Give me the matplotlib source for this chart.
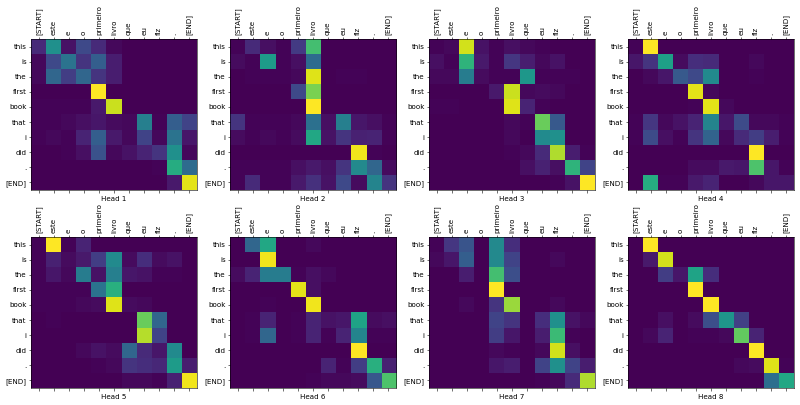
import numpy as np
import matplotlib
matplotlib.use("Agg")
import matplotlib.pyplot as plt

in_tokens = ['[START]', 'este', 'e', 'o', 'primeiro', 'livro', 'que', 'eu', 'fiz', '.', '[END]']
out_tokens = ['this', 'is', 'the', 'first', 'book', 'that', 'i', 'did', '.', '[END]']

head1 = [
 [.12,.50,.05,.22,.12,.02,0,0,0,0,0],
 [.02,.22,.38,.15,.30,.08,0,0,0,0,0],
 [.02,.33,.18,.33,.15,.08,0,0,0,0,0],
 [0,0,0,0,1,0,0,0,0,0,0],
 [.01,.01,.01,.01,.07,.92,0,0,0,0,0],
 [.01,.01,.02,.04,.06,.03,.02,.43,.01,.30,.20],
 [.01,.02,.01,.10,.30,.07,.02,.20,.02,.38,.06],
 [0,0,.01,.04,.25,.02,.05,.10,.15,.50,.02],
 [0,0,0,0,0,0,0,0,.01,.62,.35],
 [0,0,0,0,0,0,0,0,0,.07,.96],
]
head2 = [
 [.01,.12,.04,.01,.17,.70,0,0,0,0,0],
 [.03,.01,.55,.01,.04,.35,0,0,0,0,0],
 [0,.01,.01,.01,.02,.95,0,.01,.01,0,0],
 [0,0,0,0,.22,.80,0,0,0,0,0],
 [0,0,0,0,0,1,0,0,0,0,0],
 [.15,.01,.01,.01,.02,.37,.04,.43,.06,.04,.01],
 [.03,.01,.02,.01,.03,.60,.05,.15,.09,.10,.01],
 [0,0,0,0,0,0,0,0,.98,.01,0],
 [.01,.01,.01,.01,.04,.07,.04,.15,.47,.33,.03],
 [.01,.12,.01,.01,.07,.14,.05,.22,.03,.45,.15],
]
head3 = [
 [.01,.02,.93,.05,.01,.04,.02,.01,0,0,0],
 [.04,.01,.65,.07,.01,.16,.08,.02,.05,0,0],
 [.02,.02,.42,.03,.01,.01,.53,.01,.01,.01,0],
 [0,0,0,0,.07,.92,.02,.03,.02,0,0],
 [.01,.01,0,0,0,.95,.10,.01,0,0,0],
 [0,0,0,0,0,.02,.01,.77,.28,0,0],
 [0,0,0,0,0,.02,0,.48,.50,0,0],
 [0,0,0,0,0,.01,.02,.12,.88,.08,.01],
 [0,0,0,0,0,0,.04,.09,.04,.65,.20],
 [0,0,0,0,0,0,0,0,.01,.05,1],
]
head4 = [
 [.01,1,0,0,0,0,0,0,0,0,0],
 [.06,.15,.57,.03,.13,.12,0,0,.02,0,0],
 [0,.02,.06,.28,.22,.48,0,0,.01,0,0],
 [0,0,0,0,.96,.02,0,0,0,0,0],
 [0,0,0,0,.01,.96,.02,0,0,0,0],
 [.01,.16,.02,.05,.10,.45,.06,.23,.02,.02,.01],
 [.01,.23,.04,.01,.15,.32,.02,.12,.18,.08,.01],
 [0,0,0,0,0,0,0,0,1,0,0],
 [0,0,0,0,.03,.03,.07,.06,.72,.06,.01],
 [0,.62,.01,.01,.07,.10,0,0,.02,.06,.06],
]
head5 = [
 [.01,1,.01,.10,0,0,0,0,0,0,0],
 [.01,.09,.03,.07,.18,.48,.03,.13,.03,.05,0],
 [.01,.06,.02,.42,.05,.43,.06,.05,.01,.01,0],
 [.01,.01,.01,.01,.38,.63,0,0,0,0,0],
 [.01,.01,.01,.02,.03,.95,.03,.02,0,0,0],
 [0,.01,0,0,0,0,0,.77,.33,0,0],
 [0,0,0,0,0,0,0,.89,.20,0,0],
 [0,0,0,.02,.05,.03,.33,.12,.06,.48,0],
 [0,0,0,0,.01,.02,.15,.13,.11,.55,.08],
 [0,0,0,0,0,0,.02,.02,.01,.09,.98],
]
head6 = [
 [0,.33,.60,0,0,.02,0,0,0,0,0],
 [0,0,.98,0,0,0,0,0,0,0,0],
 [.03,.10,.42,.42,.01,.04,.02,0,0,0,0],
 [0,0,0,0,.96,.04,0,0,0,0,0],
 [0,0,.01,0,0,.98,0,0,0,0,0],
 [0,.01,.10,0,.01,.10,.05,.06,.58,.03,.04],
 [0,.01,.33,0,.01,.10,.01,.10,.45,.01,.01],
 [0,0,0,0,0,0,0,0,1,0,0],
 [0,0,0,0,0,0,.10,.01,.18,.63,.09],
 [0,0,0,0,0,.01,.02,.02,.03,.27,.72],
]
head7 = [
 [.01,.16,.26,0,.47,.13,0,0,0,0,0],
 [.02,.06,.30,0,.47,.20,0,0,.02,0,0],
 [0,0,.08,0,.70,.24,0,0,0,0,0],
 [0,0,0,0,1,0,0,0,0,0,0],
 [0,0,.02,0,.15,.85,0,0,.02,0,0],
 [0,0,0,0,.20,.15,0,.13,.50,.05,.02],
 [0,0,0,0,.18,.06,0,.08,.68,.01,0],
 [0,0,0,0,.02,.01,0,.02,.93,.04,0],
 [0,0,0,0,.06,.08,0,.20,.50,.20,.08],
 [0,0,0,0,0,0,0,.01,.02,.12,.88],
]
head8 = [
 [0,1,0,0,0,0,0,0,0,0,0],
 [0,.07,.93,0,0,0,0,0,0,0,0],
 [0,0,.18,.06,.58,.13,0,0,0,0,0],
 [0,0,0,0,1,0,0,0,0,0,0],
 [0,0,0,0,0,1,0,0,0,0,0],
 [0,0,.04,0,.03,.24,.52,.19,0,0,0],
 [0,.02,.10,0,.01,.01,.02,.76,.10,0,0],
 [0,0,0,0,0,0,0,0,1,0,0],
 [0,0,0,0,0,0,0,.02,.03,.95,.01],
 [0,0,0,0,0,0,0,0,0,.36,.60],
]
heads = [head1, head2, head3, head4, head5, head6, head7, head8]

left_px = [31, 230, 429, 628]
top_px = [39, 237]
w_px, h_px = 166, 151
W, H = 800, 405

fig = plt.figure(figsize=(W/100, H/100), dpi=100)
for i, h in enumerate(heads):
    r, c = divmod(i, 4)
    ax = fig.add_axes([left_px[c]/W, 1-(top_px[r]+h_px)/H, w_px/W, h_px/H])
    ax.matshow(np.array(h), cmap='viridis', vmin=0, vmax=1, aspect='auto')
    ax.set_xticks(range(len(in_tokens)))
    ax.set_yticks(range(len(out_tokens)))
    ax.set_xticklabels(in_tokens, rotation=90)
    ax.set_yticklabels(out_tokens)
    ax.tick_params(axis='both', labelsize=5.1, length=1.8, width=0.4, pad=1.3,
                   top=True, bottom=True, labeltop=True, labelbottom=False)
    for s in ax.spines.values():
        s.set_linewidth(0.4)
    ax.set_xlabel(f'Head {i+1}', fontsize=5.1, labelpad=2.5)
fig.savefig('out.png', dpi=100)
